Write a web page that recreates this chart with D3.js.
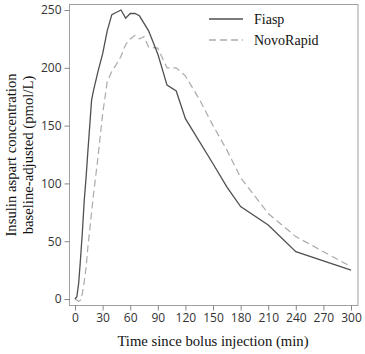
<!DOCTYPE html>
<html><head><meta charset="utf-8">
<script src="https://cdn.jsdelivr.net/npm/d3@7"></script>
<style>body{margin:0;background:#fff}svg{display:block}</style>
</head><body>
<script>
const fiaspTime = [0,2,4,6,8,10,12,14,16,18,20,25,30,35,40,50,55,60,65,70,80,90,100,110,120,150,165,180,210,240,300];
const fiaspConc = [0,2,14,35,58,85,105,128,150,172,180,197,212,232,246,250,243,247,247,245,232,212,185,180,156,117,97,80,64,41,25];
const novoTime = [0,2,4,6,8,10,12,14,16,18,20,22,25,30,35,40,45,50,55,60,65,70,75,80,90,100,110,120,135,150,165,180,210,240,300];
const novoConc = [0,-1,-2,-1,5,15,27,45,60,75,90,103,123,160,188,197,203,210,220,225,228,225,227,218,217,200,200,193,173,150,129,105,74,54,28];
const xTicks = [0,30,60,90,120,150,180,210,240,270,300];
const yTicks = [0,50,100,150,200,250];
const seriesNames = ["Fiasp","NovoRapid"];

const W=365,H=354;
const svg=d3.select("body").append("svg").attr("width",W).attr("height",H);
const x=d3.scaleLinear().domain([-6,307.6]).range([69.5,358]);
const y=d3.scaleLinear().domain([-5.6,255.2]).range([305.5,4]);

svg.append("rect").attr("x",69.5).attr("y",4.5).attr("width",288.5).attr("height",301)
  .attr("fill","none").attr("stroke","#a0a0a0").attr("stroke-width",1);

const ya=svg.append("g").attr("transform","translate(69.5,0)")
  .call(d3.axisLeft(y).tickValues(yTicks).tickSize(5).tickPadding(3));
const xa=svg.append("g").attr("transform","translate(0,305.5)")
  .call(d3.axisBottom(x).tickValues(xTicks).tickSize(5).tickPadding(3));
[ya,xa].forEach(a=>{
  a.select(".domain").remove();
  a.selectAll("line").attr("stroke","#888");
  a.selectAll("text").attr("fill","#333").style("font-family","'Open Sans',sans-serif").style("font-size","12px");
});

const line=d3.line().x(d=>x(d[0])).y(d=>y(d[1]));
const novo=novoTime.map((t,i)=>[t,novoConc[i]]);
const fiasp=fiaspTime.map((t,i)=>[t,fiaspConc[i]]);
svg.append("path").datum(novo).attr("d",line).attr("fill","none")
  .attr("stroke","#aaaaaa").attr("stroke-width",1.2).attr("stroke-dasharray","7,4");
svg.append("path").datum(fiasp).attr("d",line).attr("fill","none")
  .attr("stroke","#505050").attr("stroke-width",1.3);

const serif="'Liberation Serif','Times New Roman',serif";
const leg=[{y:19,dash:null,c:"#505050"},{y:40,dash:"7,4",c:"#aaaaaa"}];
leg.forEach((l,i)=>{
  svg.append("line").attr("x1",209).attr("x2",243).attr("y1",l.y).attr("y2",l.y)
    .attr("stroke",l.c).attr("stroke-width",1.3).attr("stroke-dasharray",l.dash);
  svg.append("text").attr("x",254).attr("y",l.y+4.5).text(seriesNames[i])
    .style("font-family",serif).style("font-size","14px").attr("fill","#111");
});

svg.append("text").attr("x",213).attr("y",346).attr("text-anchor","middle")
  .text("Time since bolus injection (min)").style("font-family",serif).style("font-size","14.7px").attr("fill","#111");
const yt=svg.append("text").attr("transform","translate(0,155) rotate(-90)").attr("text-anchor","middle")
  .style("font-family",serif).style("font-size","14.7px").attr("fill","#111");
yt.append("tspan").attr("x",0).attr("y",16).text("Insulin aspart concentration");
yt.append("tspan").attr("x",0).attr("y",33).text("baseline-adjusted (pmol/L)");
</script>
</body></html>
